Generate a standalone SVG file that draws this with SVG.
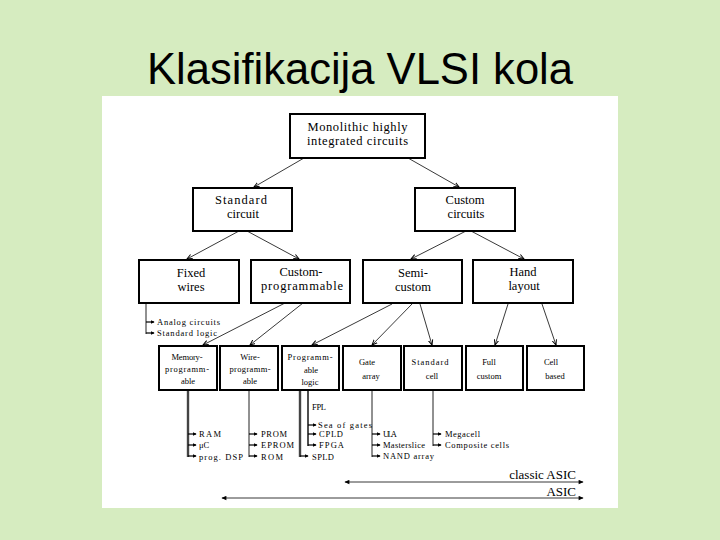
<svg xmlns="http://www.w3.org/2000/svg" width="720" height="540" viewBox="0 0 720 540">
<style>
.bx{fill:#fff;stroke:#000;stroke-width:2}
.t{font-family:"Liberation Serif","DejaVu Serif",serif;font-size:12.5px;fill:#000;text-anchor:middle}
.s{font-family:"Liberation Serif","DejaVu Serif",serif;font-size:8.5px;fill:#000;text-anchor:middle}
.l{font-family:"Liberation Serif","DejaVu Serif",serif;font-size:8.5px;fill:#000}
.c{fill:none;stroke:#222;stroke-width:0.9}
.v{fill:none;stroke:#222;stroke-width:1}
.vt{fill:none;stroke:#444;stroke-width:2.4}
.tk{fill:none;stroke:#000;stroke-width:1.2}
</style>
<defs>
<marker id="ah" viewBox="0 0 8 8" refX="7" refY="4" markerWidth="6" markerHeight="6" markerUnits="userSpaceOnUse" orient="auto">
<path d="M0,1 L7,4 L0,7" fill="none" stroke="#000" stroke-width="1.3"/>
</marker>
<marker id="tip" viewBox="0 0 6 6" refX="5" refY="3" markerWidth="4" markerHeight="4" markerUnits="userSpaceOnUse" orient="auto">
<path d="M0,0 L6,3 L0,6 Z" fill="#000"/>
</marker>
<marker id="dh" viewBox="0 0 8 8" refX="7" refY="4" markerWidth="6" markerHeight="5" markerUnits="userSpaceOnUse" orient="auto-start-reverse">
<path d="M0,0.5 L8,4 L0,7.5 Z" fill="#000"/>
</marker>
</defs>
<rect x="0" y="0" width="720" height="540" fill="#d6ecc0"/>
<text x="360" y="84" font-family="'Liberation Sans',Arial,sans-serif" font-size="45" text-anchor="middle" textLength="426" lengthAdjust="spacingAndGlyphs" fill="#000">Klasifikacija VLSI kola</text>
<rect x="102" y="96" width="516" height="412" fill="#fff"/>

<g id="connectors">
<path class="c" d="M304,158 L254,187" marker-end="url(#ah)"/>
<path class="c" d="M408,158 L459,187" marker-end="url(#ah)"/>
<path class="c" d="M239,231 L187,259" marker-end="url(#ah)"/>
<path class="c" d="M247,231 L299,259" marker-end="url(#ah)"/>
<path class="c" d="M466,231 L411,259" marker-end="url(#ah)"/>
<path class="c" d="M471,231 L524,259" marker-end="url(#ah)"/>
<path class="c" d="M285,303 L203,345" marker-end="url(#ah)"/>
<path class="c" d="M303,303 L250,345" marker-end="url(#ah)"/>
<path class="c" d="M392,304 L312,345" marker-end="url(#ah)"/>
<path class="c" d="M412,304 L372,345" marker-end="url(#ah)"/>
<path class="c" d="M420,304 L432,345" marker-end="url(#ah)"/>
<path class="c" d="M508,304 L495,345" marker-end="url(#ah)"/>
<path class="c" d="M542,304 L556,345" marker-end="url(#ah)"/>
<path class="v" d="M146,303 V334"/>
<path class="vt" d="M188,390 V457"/>
<path class="v" d="M249,390 V457"/>
<path class="vt" d="M300,390 V457"/>
<path class="v" style="stroke-width:1.6" d="M308,390 V446"/>
<path class="v" d="M372,390 V457"/>
<path class="v" d="M433,390 V446"/>
<g class="tk">
<path d="M146,322 H154" marker-end="url(#tip)"/>
<path d="M146,333 H154" marker-end="url(#tip)"/>
<path d="M188,434 H196" marker-end="url(#tip)"/>
<path d="M188,445 H196" marker-end="url(#tip)"/>
<path d="M188,456 H196" marker-end="url(#tip)"/>
<path d="M249,434 H257" marker-end="url(#tip)"/>
<path d="M249,445 H257" marker-end="url(#tip)"/>
<path d="M249,456 H257" marker-end="url(#tip)"/>
<path d="M300,456 H308" marker-end="url(#tip)"/>
<path d="M308,425 H316" marker-end="url(#tip)"/>
<path d="M308,434 H316" marker-end="url(#tip)"/>
<path d="M308,445 H316" marker-end="url(#tip)"/>
<path d="M372,434 H380" marker-end="url(#tip)"/>
<path d="M372,445 H380" marker-end="url(#tip)"/>
<path d="M372,456 H380" marker-end="url(#tip)"/>
<path d="M433,434 H441" marker-end="url(#tip)"/>
<path d="M433,445 H441" marker-end="url(#tip)"/>
</g>
<path class="c" d="M345,482 H583" marker-start="url(#dh)" marker-end="url(#dh)"/>
<path class="c" d="M222,498 H583" marker-start="url(#dh)" marker-end="url(#dh)"/>
</g>

<g id="n-monolithic">
<rect class="bx" x="290" y="114" width="135" height="44"/>
<text class="t" x="357.5" y="131" textLength="100">Monolithic highly</text>
<text class="t" x="357.5" y="145" textLength="101">integrated circuits</text>
</g>
<g id="n-standard">
<rect class="bx" x="193" y="188" width="99" height="43"/>
<text class="t" x="241" y="204" textLength="52">Standard</text>
<text class="t" x="243" y="218">circuit</text>
</g>
<g id="n-custom">
<rect class="bx" x="415" y="188" width="100" height="43"/>
<text class="t" x="465" y="204">Custom</text>
<text class="t" x="466" y="218">circuits</text>
</g>
<g id="n-fixed">
<rect class="bx" x="139" y="260" width="100" height="43"/>
<text class="t" x="191" y="277">Fixed</text>
<text class="t" x="191" y="291">wires</text>
</g>
<g id="n-customprog">
<rect class="bx" x="251" y="260" width="99" height="43"/>
<text class="t" x="301" y="276">Custom-</text>
<text class="t" x="302" y="290" textLength="82">programmable</text>
</g>
<g id="n-semi">
<rect class="bx" x="363" y="260" width="99" height="43"/>
<text class="t" x="413" y="277">Semi-</text>
<text class="t" x="413" y="291">custom</text>
</g>
<g id="n-hand">
<rect class="bx" x="473" y="260" width="100" height="43"/>
<text class="t" x="523" y="276">Hand</text>
<text class="t" x="524" y="290">layout</text>
</g>

<g id="n-memory">
<rect class="bx" x="159" y="346" width="58" height="44"/>
<text class="s" x="187" y="360" textLength="31">Memory-</text>
<text class="s" x="187" y="372" textLength="44">programm-</text>
<text class="s" x="188" y="384">able</text>
</g>
<g id="n-wire">
<rect class="bx" x="220" y="346" width="58" height="44"/>
<text class="s" x="250" y="360">Wire-</text>
<text class="s" x="250" y="372" textLength="41">programm-</text>
<text class="s" x="250" y="384">able</text>
</g>
<g id="n-pl">
<rect class="bx" x="282" y="346" width="57" height="44"/>
<text class="s" x="310" y="360" textLength="45">Programm-</text>
<text class="s" x="311" y="373">able</text>
<text class="s" x="310" y="385">logic</text>
</g>
<g id="n-gate">
<rect class="bx" x="343" y="346" width="58" height="44"/>
<text class="s" x="367" y="365">Gate</text>
<text class="s" x="371" y="379">array</text>
</g>
<g id="n-stdcell">
<rect class="bx" x="404" y="346" width="58" height="44"/>
<text class="s" x="430" y="365" textLength="37">Standard</text>
<text class="s" x="432" y="379">cell</text>
</g>
<g id="n-full">
<rect class="bx" x="466" y="346" width="57" height="44"/>
<text class="s" x="489" y="365">Full</text>
<text class="s" x="489" y="379">custom</text>
</g>
<g id="n-cell">
<rect class="bx" x="527" y="346" width="57" height="44"/>
<text class="s" x="551" y="365">Cell</text>
<text class="s" x="555" y="379">based</text>
</g>

<g id="labels">
<text class="l" x="157" y="325" textLength="63">Analog circuits</text>
<text class="l" x="157" y="336" textLength="60">Standard logic</text>
<text class="l" x="199" y="437" textLength="22">RAM</text>
<text class="l" x="199" y="448">μC</text>
<text class="l" x="199" y="460" textLength="44">prog. DSP</text>
<text class="l" x="261" y="437" textLength="26">PROM</text>
<text class="l" x="261" y="448" textLength="33">EPROM</text>
<text class="l" x="261" y="460" textLength="22">ROM</text>
<text class="l" x="312" y="410" textLength="14">FPL</text>
<text class="l" x="318" y="428" textLength="54">Sea of gates</text>
<text class="l" x="319" y="437" textLength="24">CPLD</text>
<text class="l" x="319" y="448" textLength="25">FPGA</text>
<text class="l" x="312" y="460" textLength="22">SPLD</text>
<text class="l" x="383" y="437" textLength="14">ULA</text>
<text class="l" x="383" y="448" textLength="42">Masterslice</text>
<text class="l" x="383" y="459" textLength="51">NAND array</text>
<text class="l" x="445" y="437" textLength="35">Megacell</text>
<text class="l" x="445" y="448" textLength="64">Composite cells</text>
<text x="576" y="479" font-family="'Liberation Serif',serif" font-size="13" text-anchor="end">classic ASIC</text>
<text x="576" y="496" font-family="'Liberation Serif',serif" font-size="13" text-anchor="end">ASIC</text>
</g>
</svg>
